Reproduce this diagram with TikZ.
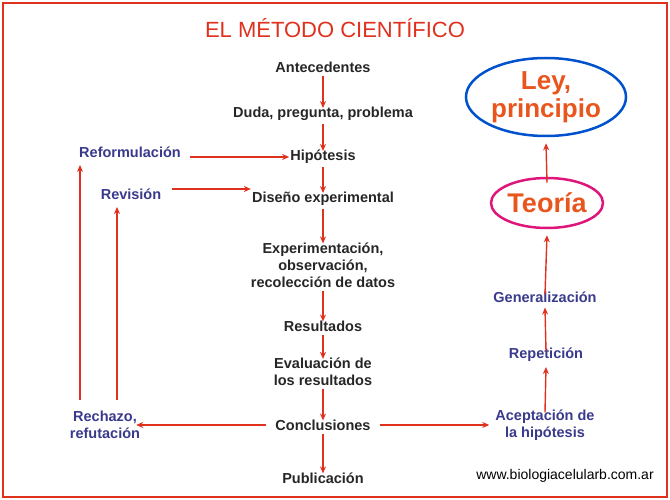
\documentclass[tikz,border=0pt]{standalone}
\usepackage{fontspec}
\setmainfont{Liberation Sans}
\usetikzlibrary{arrows.meta,shapes.geometric}
\definecolor{rd}{HTML}{E0301E}
\definecolor{bl}{HTML}{3A3A8C}
\definecolor{org}{HTML}{E8561E}
\tikzset{
 ct/.style={font=\bfseries\fontsize{14.5}{17}\selectfont, align=center, text=black!85, inner sep=1pt},
 sd/.style={font=\bfseries\fontsize{14.5}{17}\selectfont, align=center, text=bl, inner sep=1pt},
 ar/.style={draw=rd, line width=1.4pt, -{Stealth[length=7pt,width=6pt]}},
}
\begin{document}
\begin{tikzpicture}[x=1pt,y=-1pt]
\useasboundingbox (0,0) rectangle (670,500);
\draw[rd, line width=1.2pt] (3,3) rectangle (667,497);
\node[font=\fontsize{22}{24}\selectfont, text=rd] (title) at (335,28) {EL MÉTODO CIENTÍFICO};
\node[ct] (a) at (323,67) {Antecedentes};
\node[ct] (b) at (323,114) {Duda, pregunta, problema};
\node[ct] (c) at (323,157) {Hipótesis};
\node[ct] (d) at (323,199) {Diseño experimental};
\node[ct] (e) at (323,265) {Experimentación,\\observación,\\recolección de datos};
\node[ct] (f) at (323,326) {Resultados};
\node[ct] (g) at (323,372) {Evaluación de\\los resultados};
\node[ct] (h) at (323,425) {Conclusiones};
\node[ct] (i) at (323,478) {Publicación};
\node[sd] (ref) at (130,152) {Reformulación};
\node[sd] (rev) at (131,194) {Revisión};
\node[sd] (rech) at (105,425) {Rechazo,\\refutación};
\node[sd] (acep) at (545,425) {Aceptación de\\la hipótesis};
\node[sd] (rep) at (546,355) {Repetición};
\node[sd] (gen) at (545,297) {Generalización};
\node[draw=magenta!70!purple, line width=2.5pt, ellipse, minimum width=112pt, minimum height=50pt, inner sep=0pt, text=org, font=\bfseries\fontsize{27}{29}\selectfont] (teo) at (547,203) {Teoría};
\node[draw=blue!60!cyan!80!black, line width=2.5pt, ellipse, minimum width=160pt, minimum height=78pt, text=org, font=\bfseries\fontsize{26}{28}\selectfont, align=center, inner sep=0pt] (ley) at (546,97) {Ley,\\principio};
\node[font=\fontsize{14}{15}\selectfont] (web) at (565,476) {www.biologiacelularb.com.ar};
\foreach \p/\q in {a/b,b/c,c/d,d/e,e/f,f/g,g/h,h/i} \draw[ar] (\p.south) ++(0,2) -- ([yshift=-2]\q.north);
\draw[ar] (ref.east) ++(8,5) coordinate (r1) -- (r1 -| c.west);
\draw[ar] ([xshift=10,yshift=5]rev.east) -- ([yshift=5]rev.east -| d.west);
\draw[ar] ([xshift=-8]h.west) -- ([xshift=-5]rech.east);
\draw[ar] ([xshift=8]h.east) -- ([xshift=-5]acep.west);
\draw[ar] (80,400) -- (80,165);
\draw[ar] (117,400) -- (117,207);
\draw[ar] ([yshift=-4]acep.north) -- ([yshift=-4]rep.south);
\draw[ar] ([yshift=-4]rep.north) -- ([yshift=-4]gen.south);
\draw[ar] ([yshift=-4]gen.north) -- ([yshift=-6]teo.south);
\draw[ar] ([yshift=-6]teo.north) -- ([yshift=-6]ley.south);
\end{tikzpicture}
\end{document}
